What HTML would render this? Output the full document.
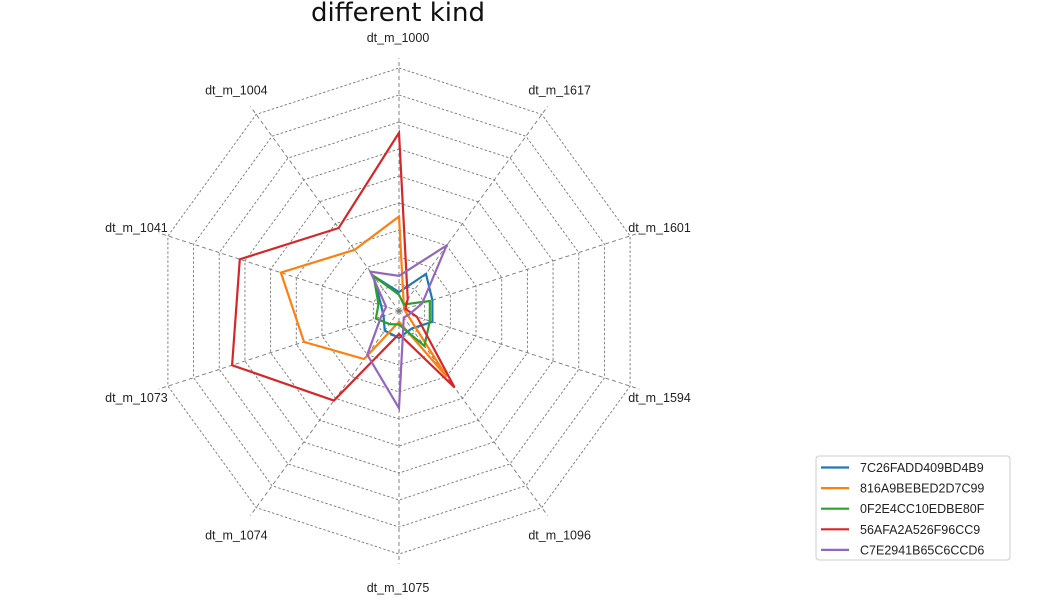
<!DOCTYPE html>
<html><head><meta charset="utf-8"><style>
body{margin:0;background:#fff;width:1063px;height:605px;overflow:hidden;font-family:"Liberation Sans","DejaVu Sans",sans-serif}
</style></head><body>
<svg id="chart" width="1063" height="605" viewBox="0 0 1063 605" xmlns="http://www.w3.org/2000/svg">
<text x="398" y="21" text-anchor="middle" font-size="26" fill="#111" font-family="DejaVu Sans, sans-serif">different kind</text>
<g id="grid"></g><g id="series"></g><g id="labels"></g>
<g id="legend">
<rect x="816" y="456" width="194" height="104" rx="3" fill="#fff" stroke="#ccc"/>
</g>
</svg>
<script>
const categories=["dt_m_1000","dt_m_1617","dt_m_1601","dt_m_1594","dt_m_1096","dt_m_1075","dt_m_1074","dt_m_1073","dt_m_1041","dt_m_1004"];
const seriesNames=["7C26FADD409BD4B9","816A9BEBED2D7C99","0F2E4CC10EDBE80F","56AFA2A526F96CC9","C7E2941B65C6CCD6"];
const s1=[0.7,1.7,1.3,1.3,0.8,1.0,0.9,0.6,0.7,1.6];
const s2=[3.5,0.3,0.2,0.3,3.0,0.4,2.2,3.7,4.6,2.8];
const s3=[0.6,0.3,1.2,1.2,1.6,0.5,0.6,0.9,0.8,1.6];
const s4=[6.6,0.55,0.25,0.7,3.5,0.85,4.1,6.5,6.2,3.8];
const s5=[1.3,3.0,0.9,0.4,0.3,3.6,2.0,0.7,0.5,1.8];
const ringValues=[1,2,3,4,5,6,7,8,9];
const colors=["#1f77b4","#ff7f0e","#2ca02c","#d62728","#9467bd"];
const cx=399,cy=311,R=243,maxV=9;
const NS="http://www.w3.org/2000/svg";
function ang(i){return Math.PI/2-i*2*Math.PI/categories.length;}
function pt(i,v){const r=v/maxV*R;return [cx+r*Math.cos(ang(i)),cy-r*Math.sin(ang(i))];}
function mk(t,a,p){const e=document.createElementNS(NS,t);for(const k in a)e.setAttribute(k,a[k]);p.appendChild(e);return e;}
const grid=document.getElementById('grid');
ringValues.forEach(v=>{
 const p=categories.map((c,i)=>pt(i,v).join(',')).join(' ');
 const e=mk('polygon',{points:p,fill:'none',stroke:'#777','stroke-width':0.9,'stroke-dasharray':'2.5,2'},grid);
 
 
});
categories.forEach((c,i)=>{
 const [x,y]=pt(i,maxV*1.04);
 const e=mk('line',{x1:cx,y1:cy,x2:x,y2:y,stroke:'#777','stroke-width':0.9,'stroke-dasharray':'4,3'},grid);
 
 
 const [lx,ly]=pt(i,maxV*275/243);
 const t=mk('text',{x:lx-1,y:ly+6,'text-anchor':'middle','font-size':12.5,fill:'#222'},document.getElementById('labels'));
 t.textContent=c;
 
 
});
const all=[s1,s2,s3,s4,s5];
const sg=document.getElementById('series');
all.forEach((s,k)=>{
 const p=s.map((v,i)=>pt(i,v).join(',')).join(' ');
 const e=mk('polygon',{points:p,fill:'none',stroke:colors[k],'stroke-width':2.2,'stroke-linejoin':'miter'},sg);
 
 
});
const lg=document.getElementById('legend');
seriesNames.forEach((n,k)=>{
 const y=467.5+k*20.6;
 const l=mk('line',{x1:821,y1:y,x2:849,y2:y,stroke:colors[k],'stroke-width':2.2},lg);
 
 
 const t=mk('text',{x:860,y:y+4.5,'font-size':12.5,fill:'#222'},lg);
 t.textContent=n;
 
 
});
</script>
</body></html>
